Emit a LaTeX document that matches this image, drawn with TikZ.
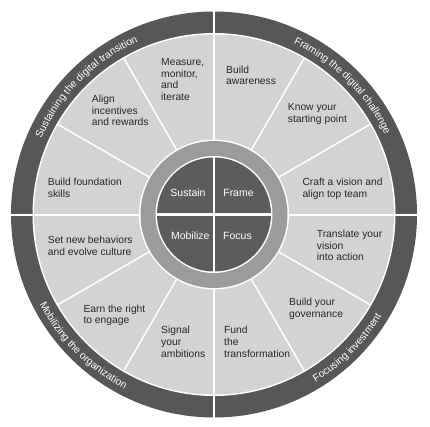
\documentclass[tikz,border=0pt]{standalone}
\usepackage{fontspec}
\setmainfont{Liberation Sans}
\usetikzlibrary{calc,decorations.text}
\definecolor{ringdark}{HTML}{575757}
\definecolor{wedgegray}{HTML}{D3D3D3}
\definecolor{ringmid}{HTML}{9B9B9B}
\definecolor{coredark}{HTML}{5C5C5C}
\definecolor{txtgray}{HTML}{262626}
\begin{document}
\begin{tikzpicture}[x=1pt,y=1pt,
  lbl/.style={font=\fontsize{10.3}{11.7}\selectfont, text=txtgray, align=left, anchor=base west, inner sep=0pt},
  core/.style={font=\fontsize{10.5}{12}\selectfont, text=white, anchor=base, inner sep=0pt},
  sepline/.style={white, line width=1.5pt},
  crossline/.style={white, line width=2pt},
  arctext/.style={decorate, decoration={text along path, text align=center,
     text={|\color{white}\fontsize{10.3}{12}\selectfont|#1}}}
]
\useasboundingbox (0,0) rectangle (430,426);
\coordinate (c) at (214,211.5);
% outer dark ring and light wedges
\fill[ringdark] (c) circle[radius=203];
\fill[white] (c) circle[radius=181.5];
\fill[wedgegray] (c) circle[radius=180];
\foreach \a in {30,60,120,150,210,240,300,330}
  \draw[sepline] ($(c)+(\a:70)$) -- ($(c)+(\a:181)$);
% white cross through everything
\draw[crossline] ($(c)+(-205,0)$) -- ($(c)+(205,0)$);
\draw[crossline] ($(c)+(0,-205)$) -- ($(c)+(0,205)$);
% middle ring and core
\fill[white] (c) circle[radius=75];
\fill[ringmid] (c) circle[radius=73.5];
\fill[white] (c) circle[radius=58.5];
\fill[coredark] (c) circle[radius=57];
\draw[white, line width=2.5pt] ($(c)+(-58,0)$) -- ($(c)+(58,0)$);
\draw[white, line width=2.5pt] ($(c)+(0,-58)$) -- ($(c)+(0,58)$);
% curved ring texts
\path[arctext={Sustaining the digital transition}] ($(c)+(178:188.5)$) arc[start angle=178, end angle=92, radius=188.5];
\path[arctext={Framing the digital challenge}] ($(c)+(88:188.5)$) arc[start angle=88, end angle=2, radius=188.5];
\path[arctext={Mobilizing the organization}] ($(c)+(182:196)$) arc[start angle=182, end angle=268, radius=196];
\path[arctext={Focusing investment}] ($(c)+(272:196)$) arc[start angle=272, end angle=358, radius=196];
% core labels
\node[core] (sustain) at (188,229.3) {Sustain};
\node[core] (frame) at (238.5,229.3) {Frame};
\node[core] (mobilize) at (190.3,187) {Mobilize};
\node[core] (focus) at (237.5,187) {Focus};
% wedge labels (anchored at the baseline of the last line)
\node[lbl] (measure) at (161,325.3) {Measure,\\monitor,\\and\\iterate};
\node[lbl] (align) at (91.7,300) {Align\\incentives\\and rewards};
\node[lbl] (foundation) at (47.7,228.7) {Build foundation\\skills};
\node[lbl] (awareness) at (226,341) {Build\\awareness};
\node[lbl] (knowyour) at (287.7,303.3) {Know your\\starting point};
\node[lbl] (craft) at (302.3,228.7) {Craft a vision and\\align top team};
\node[lbl] (setnew) at (47.7,170.7) {Set new behaviors\\and evolve culture};
\node[lbl] (earn) at (83.3,102.3) {Earn the right\\to engage};
\node[lbl] (signal) at (161,68.7) {Signal\\your\\ambitions};
\node[lbl] (translate) at (316.7,165.3) {Translate your\\vision\\into action};
\node[lbl] (governance) at (289,109) {Build your\\governance};
\node[lbl] (fund) at (224,69) {Fund\\the\\transformation};
\end{tikzpicture}
\end{document}
